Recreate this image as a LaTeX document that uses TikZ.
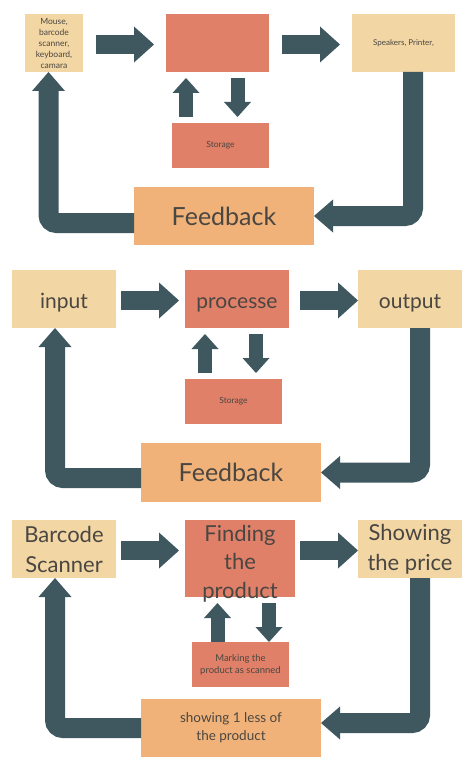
\documentclass[tikz,border=0pt]{standalone}
\usepackage{fontspec}
\setmainfont{Lato}
\usetikzlibrary{arrows.meta}
\definecolor{beige}{RGB}{242,214,164}
\definecolor{salmon}{RGB}{224,128,104}
\definecolor{fborange}{RGB}{240,178,120}
\definecolor{slate}{RGB}{63,88,96}
\definecolor{txt}{RGB}{74,70,66}
\begin{document}
\begin{tikzpicture}[x=1pt,y=-1pt,
  box/.style={draw=none,inner sep=0pt,outer sep=0pt,align=center,text=txt},
  inbox/.style={box,fill=beige},
  procbox/.style={box,fill=salmon},
  fbbox/.style={box,fill=fborange},
  bigword/.style={font=\fontsize{21}{25}\selectfont,text height=18.6pt,text depth=0pt},
  harrow/.style={draw=slate,line width=19pt,-{Triangle[length=20pt,width=36pt,line width=0pt]}},
  varrow/.style={draw=slate,line width=14pt,-{Triangle[length=15pt,width=27pt,line width=0pt]}},
  looparrow/.style={draw=slate,line width=20pt,rounded corners=8pt,-{Triangle[length=19pt,width=33pt,line width=0pt]}}
]
\fill[white] (0,0) rectangle (474,770);
\useasboundingbox (0,0) rectangle (474,770);

% ---------- panel 1 ----------
\node[inbox,minimum width=58pt,minimum height=58pt,font=\fontsize{8.5}{11}\selectfont] (in1) at (54,43) {Mouse,\\barcode\\scanner,\\keyboard,\\camara};
\node[procbox,minimum width=103pt,minimum height=58pt] (pr1) at (217.5,43) {};
\node[inbox,minimum width=103pt,minimum height=58pt,font=\fontsize{8}{10}\selectfont] (out1) at (403.5,43) {Speakers, Printer,};
\node[procbox,minimum width=97pt,minimum height=45pt,font=\fontsize{8.5}{10}\selectfont] (st1) at (220.5,145.5) {Storage};
\node[fbbox,minimum width=180pt,minimum height=58pt,font=\fontsize{25}{30}\selectfont] (fb1) at (224,216) {Feedback};

\draw[harrow] ([xshift=13pt,yshift=-1.5pt]in1.east) -- ([xshift=-12pt,yshift=-1.5pt]pr1.west);
\draw[harrow] ([xshift=13pt,yshift=-1.5pt]pr1.east) -- ([xshift=-12pt,yshift=-1.5pt]out1.west);
\draw[varrow] ([xshift=-34.5pt,yshift=6pt]st1.north) -- ([xshift=-31.5pt,yshift=-6pt]pr1.south);
\draw[varrow] ([xshift=20pt,yshift=-6pt]pr1.south) -- ([xshift=17pt,yshift=6pt]st1.north);
\draw[looparrow] ([xshift=9.5pt]out1.south) |- (fb1.east);
\draw[looparrow] ([yshift=-7pt]fb1.west) -| ([xshift=-5.5pt]in1.south);

% ---------- panel 2 ----------
\node[inbox,minimum width=104pt,minimum height=58pt,bigword] (in2) at (64,299) {input};
\node[procbox,minimum width=104pt,minimum height=58pt,bigword] (pr2) at (237,299) {processe};
\node[inbox,minimum width=104pt,minimum height=58pt,bigword] (out2) at (410,299) {output};
\node[procbox,minimum width=97pt,minimum height=45pt,font=\fontsize{8.5}{10}\selectfont] (st2) at (233.5,401.5) {Storage};
\node[fbbox,minimum width=180pt,minimum height=59pt,font=\fontsize{25}{30}\selectfont] (fb2) at (231,472.5) {Feedback};

\draw[harrow] ([xshift=5pt,yshift=-1.5pt]in2.east) -- ([xshift=-6pt,yshift=-1.5pt]pr2.west);
\draw[harrow] ([xshift=11pt,yshift=-1.5pt]pr2.east) -- ([yshift=-1.5pt]out2.west);
\draw[varrow] ([xshift=-28.5pt,yshift=6pt]st2.north) -- ([xshift=-32pt,yshift=-6pt]pr2.south);
\draw[varrow] ([xshift=19pt,yshift=-6pt]pr2.south) -- ([xshift=22.5pt,yshift=6pt]st2.north);
\draw[looparrow] ([xshift=10pt]out2.south) |- (fb2.east);
\draw[looparrow] ([yshift=-5.5pt]fb2.west) -| ([xshift=-9pt]in2.south);

% ---------- panel 3 ----------
\node[inbox,minimum width=104pt,minimum height=58pt,font=\fontsize{22}{30}\selectfont] (in3) at (64,549) {Barcode\\Scanner};
\node[procbox,minimum width=110pt,minimum height=77pt] (pr3) at (240,558.5) {};
\node[box,font=\fontsize{22}{28.5}\selectfont] (pr3t) at ([yshift=-5pt]pr3.center) {Finding\\the\\product};
\node[inbox,minimum width=104pt,minimum height=58pt,font=\fontsize{22}{30}\selectfont] (out3) at (410,549) {Showing\\the price};
\node[procbox,minimum width=97pt,minimum height=45pt,font=\fontsize{9.5}{12}\selectfont] (st3) at (240.5,664.5) {Marking the\\product as scanned};
\node[fbbox,minimum width=180pt,minimum height=58pt,font=\fontsize{13.5}{18}\selectfont] (fb3) at (231,728) {showing 1 less of\\the product};

\draw[harrow] ([xshift=5pt,yshift=-1.5pt]in3.east) -- ([xshift=-6pt,yshift=-1.5pt]pr3.west |- in3.east);
\draw[harrow] ([xshift=5pt]pr3.east |- in3.east) ++(0,1.5) -- ([yshift=-1.5pt]out3.west);
\draw[varrow] ([xshift=-23pt]st3.north) -- ([xshift=-22.5pt,yshift=-6pt]pr3.south);
\draw[varrow] ([xshift=29pt,yshift=-6pt]pr3.south) -- ([xshift=28.5pt]st3.north);
\draw[looparrow] ([xshift=10pt]out3.south) |- ([yshift=5pt]fb3.east);
\draw[looparrow] (fb3.west) -| ([xshift=-9pt]in3.south);
\end{tikzpicture}
\end{document}
